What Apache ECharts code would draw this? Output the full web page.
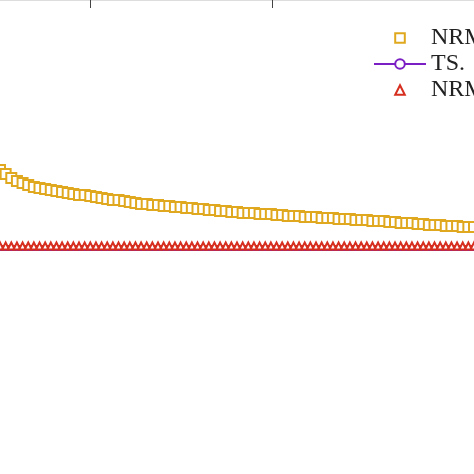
<!DOCTYPE html>
<html><head><meta charset="utf-8">
<script src="https://cdn.jsdelivr.net/npm/echarts@6/dist/echarts.min.js"></script>
<style>html,body{margin:0;padding:0;background:#fff}#c{width:474px;height:474px}</style>
</head><body><div id="c"></div>
<script>
const squares = [170,174,178,181,183,185,187,188,189,190,191,192,193,194,195,195,196,197,198,199,200,200,201,202,203,204,204,205,205,206,206,207,207,208,208,209,209,210,210,211,211,212,212,213,213,213,214,214,214,215,215,216,216,216,217,217,217,218,218,218,219,219,219,220,220,220,221,221,221,222,222,223,223,223,224,224,225,225,225,226,226,226,227,227,227];
const triangles = squares.map(() => 246);
const tsLine = squares.map(() => 250);
const xTicks = [90, 272];
const step = 474 / (squares.length - 1);
const xs = squares.map((_, i) => i * step);
const pair = arr => arr.map((v, i) => [xs[i], v]);
const chart = echarts.init(document.getElementById('c'));
const axisCommon = {type:'value', min:0, max:474, axisLine:{show:true,lineStyle:{color:'#ddd'}},
  axisTick:{show:true, inside:true, length:8, customValues:xTicks, lineStyle:{color:'#444'}},
  axisLabel:{show:false}, splitLine:{show:false}};
chart.setOption({
  animation:false,
  grid:{left:0,right:0,top:0,bottom:6},
  legend:{left:368, top:21, orient:'vertical', itemGap:2, itemWidth:52, itemHeight:12,
    textStyle:{fontFamily:'Liberation Serif', fontSize:24, color:'#222'},
    formatter: n => n.split('|')[0],
    data:[{name:'NRMSE|a'},{name:'TS.|b'},{name:'NRMSE|c', lineStyle:{opacity:0}}]},
  xAxis:[Object.assign({position:'bottom'}, axisCommon), Object.assign({position:'top'}, axisCommon)],
  yAxis:{type:'value', min:0, max:468, inverse:true, show:false},
  series:[
    {name:'TS.|b', type:'line', data:pair(tsLine), symbol:'emptyCircle', showSymbol:false, symbolSize:11,
     lineStyle:{color:'#7B1FC4', width:2}, itemStyle:{color:'#7B1FC4', borderWidth:2}},
    {name:'NRMSE|c', type:'line', data:pair(triangles), symbol:'emptyTriangle', symbolSize:7,
     lineStyle:{color:'#D62E1F', width:2}, itemStyle:{color:'#D62E1F', borderWidth:1.5}},
    {name:'NRMSE|a', type:'line', data:pair(squares), symbol:'emptyRect', symbolSize:10,
     lineStyle:{width:0, opacity:0}, itemStyle:{color:'#E0A81E', borderWidth:1.5}}
  ]
});
</script></body></html>
